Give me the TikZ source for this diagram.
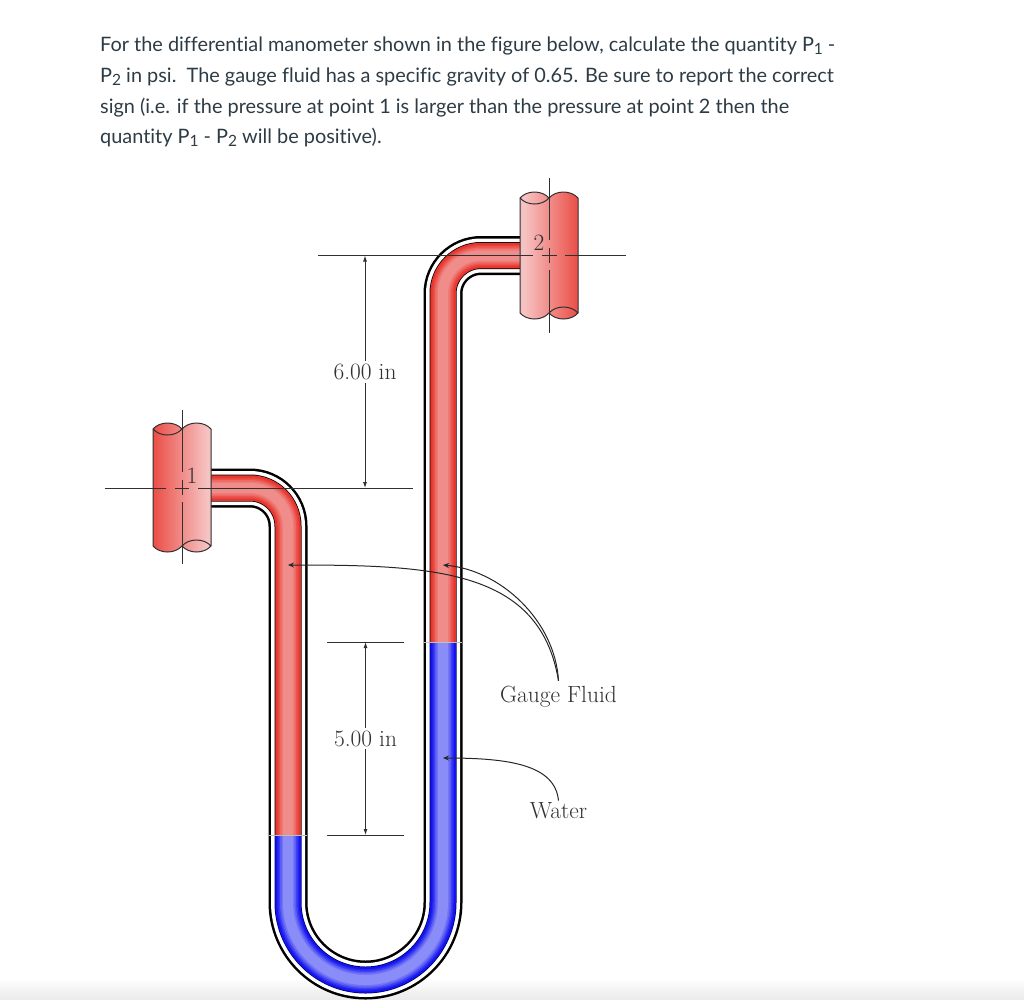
\documentclass[tikz,border=0pt]{standalone}
\usepackage{fontspec}
\newfontfamily\lato[Ligatures=NoCommon]{Lato}
\usetikzlibrary{arrows.meta}

\definecolor{bodyink}{HTML}{2D3B45}
\definecolor{lineink}{HTML}{303030}
\definecolor{redrim}{HTML}{E8352C}
\definecolor{redcore}{HTML}{F08C8A}
\definecolor{bluerim}{HTML}{1414F0}
\definecolor{bluecore}{HTML}{8A8CF8}
\definecolor{stubpale}{HTML}{F6C4C4}
\definecolor{stubedge}{HTML}{EE8482}

\pgfdeclarehorizontalshading{stubleft}{100bp}{
  color(0bp)=(redrim); color(15bp)=(redrim); color(72bp)=(stubpale); color(100bp)=(stubedge)}
\pgfdeclarehorizontalshading{stubright}{100bp}{
  color(0bp)=(stubedge); color(28bp)=(stubpale); color(85bp)=(redrim); color(100bp)=(redrim)}

\newcommand{\subnum}[1]{\raisebox{-0.3ex}{\fontsize{15.5}{18}\selectfont #1}}

\tikzset{
    para/.style={anchor=base west, inner sep=0pt, text=bodyink, font=\lato\fontsize{19.9}{24}\selectfont},
    lbl/.style={inner sep=2pt, text=lineink, font=\fontsize{23.4}{28}\selectfont},
    thin ink/.style={draw=lineink, line width=0.9pt},
    stub/.style={draw=lineink, line width=1pt},
    dimline/.style={thin ink, {Latex[length=6pt,width=4pt]}-{Latex[length=6pt,width=4pt]}},
    leader/.style={draw=black!85, line width=1pt, -{Stealth[length=6pt,width=5pt]}}
}

\begin{document}
\begin{tikzpicture}[x=1pt, y=-1pt]
    \useasboundingbox (0, 0) rectangle (1024, 999);
    \fill[top color=white, bottom color=black!8] (0, 978) rectangle (1024, 999);

    \node[para] (line1) at (100, 51) {For the differential manometer shown in the figure below, calculate the quantity P\subnum{1} -};
    \node[para] (line2) at (100, 82) {P\subnum{2} in psi.\ \ The gauge fluid has a specific gravity of 0.65. Be sure to report the correct};
    \node[para] (line3) at (100, 113) {sign (i.e. if the pressure at point 1 is larger than the pressure at point 2 then the};
    \node[para] (line4) at (100, 143) {quantity P\subnum{1} - P\subnum{2} will be positive).};

    % tube wall
    \foreach \w/\c in {39/black, 34/white}
        \draw[line width=\w pt, \c] (211, 488) -- (250, 488) arc (-90:0:38) -- (288, 902.5)
            arc (180:0:77.5) -- (443, 293.5) arc (180:270:38) -- (520, 255.5);
    % fluids
    \foreach \w/\c in {27/black, 25.5/redrim, 23.5/redrim, 21.5/redrim!85!redcore, 19/redrim!65!redcore, 16/redrim!40!redcore, 13/redrim!20!redcore, 10/redcore}
        \draw[line width=\w pt, \c] (211, 488) -- (250, 488) arc (-90:0:38) -- (288, 835);
    \foreach \w/\c in {27/black, 25.5/redrim, 23.5/redrim, 21.5/redrim!85!redcore, 19/redrim!65!redcore, 16/redrim!40!redcore, 13/redrim!20!redcore, 10/redcore}
        \draw[line width=\w pt, \c] (443, 642) -- (443, 293.5) arc (180:270:38) -- (520, 255.5);
    \foreach \w/\c in {27/black!60!blue, 25.5/bluerim, 23.5/bluerim, 21.5/bluerim!85!bluecore, 19/bluerim!65!bluecore, 16/bluerim!40!bluecore, 13/bluerim!20!bluecore, 10/bluecore}
        \draw[line width=\w pt, \c] (288, 835) -- (288, 902.5) arc (180:0:77.5) -- (443, 642);
    \draw[black!25, line width=0.5pt] (269, 835) -- (307, 835);
    \draw[black!25, line width=0.5pt] (424, 642) -- (462, 642);

    % pipe 1
    \draw[stub, shading=stubleft] (153, 429) .. controls (160, 421) and (175, 421) .. (182, 429)
        .. controls (189, 421) and (204, 421) .. (211, 429) -- (211, 546)
        .. controls (204, 554) and (189, 554) .. (182, 546)
        .. controls (175, 554) and (160, 554) .. (153, 546) -- cycle;
    \draw[stub] (153, 429) .. controls (160, 437) and (175, 437) .. (182, 429);
    \draw[stub] (182, 546) .. controls (189, 538) and (204, 538) .. (211, 546);
    % pipe 2
    \draw[stub, shading=stubright] (520, 198) .. controls (527, 190) and (542, 190) .. (549, 198)
        .. controls (556, 190) and (571, 190) .. (578, 198) -- (578, 313)
        .. controls (571, 321) and (556, 321) .. (549, 313)
        .. controls (542, 321) and (527, 321) .. (520, 313) -- cycle;
    \draw[stub] (520, 198) .. controls (527, 206) and (542, 206) .. (549, 198);
    \draw[stub] (549, 313) .. controls (556, 305) and (571, 305) .. (578, 313);

    % center lines
    \draw[thin ink] (105, 488) -- (166, 488) (175, 488) -- (189, 488) (198, 488) -- (413, 488);
    \draw[thin ink] (182, 410) -- (182, 472) (182, 480) -- (182, 495) (182, 502) -- (182, 564);
    \draw[thin ink] (318, 255.5) -- (533, 255.5) (542, 255.5) -- (557, 255.5) (565, 255.5) -- (626, 255.5);
    \draw[thin ink] (549, 178) -- (549, 240) (549, 248) -- (549, 263) (549, 270) -- (549, 333);
    \node[lbl, inner sep=0pt] (pt1) at (192, 476) {1};
    \node[lbl, inner sep=0pt] (pt2) at (539, 243) {2};

    % dimensions
    \coordinate (sixtop) at (365, 255.5);
    \coordinate (sixbot) at (365, 488);
    \draw[dimline] (sixtop) -- node[lbl, fill=white, inner sep=3pt] (six) {6.00 in} (sixbot);
    \coordinate (fivetopl) at (327, 642);
    \coordinate (fivetopr) at (404, 642);
    \coordinate (fivebotl) at (327, 835);
    \coordinate (fivebotr) at (404, 835);
    \draw[thin ink] (fivetopl) -- (fivetopr);
    \draw[thin ink] (fivebotl) -- (fivebotr);
    \coordinate (fivetop) at (365.5, 642);
    \coordinate (fivebot) at (365.5, 835);
    \draw[dimline] (fivetop) -- node[lbl, fill=white, inner sep=3pt] (five) {5.00 in} (fivebot);

    % fluid labels
    \node[lbl, anchor=base, text height=19pt] (gauge) at (558.5, 702) {Gauge Fluid};
    \node[lbl] (water) at (558.5, 811) {Water};
    \coordinate (gaugeright) at (443, 565);
    \coordinate (gaugeleft) at (288, 565);
    \coordinate (waterin) at (443, 758);
    \draw[leader] (gauge.north) .. controls (555, 620) and (500, 570) .. (gaugeright);
    \draw[leader] (gauge.north) .. controls (540, 569) and (434, 565) .. (gaugeleft);
    \draw[leader] (water.north) .. controls (555, 765) and (510, 758) .. (waterin);
\end{tikzpicture}
\end{document}
